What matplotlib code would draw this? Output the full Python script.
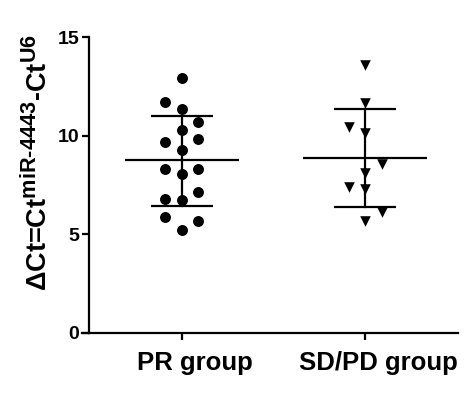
import matplotlib
matplotlib.use("Agg")
import matplotlib.pyplot as plt
import matplotlib.transforms as mtrans
import matplotlib._mathtext as _mt
import numpy as np

_mt.SHRINK_FACTOR = 0.8

plt.rcParams['font.family'] = ['Liberation Sans', 'DejaVu Sans']
plt.rcParams['font.weight'] = 'bold'
plt.rcParams['mathtext.fontset'] = 'custom'
plt.rcParams['mathtext.rm'] = 'Liberation Sans:bold'
plt.rcParams['mathtext.bf'] = 'Liberation Sans:bold'
plt.rcParams['mathtext.it'] = 'Liberation Sans:bold'

groups = ["PR group", "SD/PD group"]
pr_values = [12.9, 11.7, 11.37, 10.69, 10.27, 9.68, 9.85, 9.29, 8.32, 8.32,
             8.07, 7.13, 6.8, 6.71, 5.86, 5.69, 5.19]
pr_offsets = [0, -1, 0, 1, 0, -1, 1, 0, -1, 1, 0, 1, -1, 0, -1, 1, 0]
sd_values = [13.57, 11.66, 10.44, 10.13, 8.58, 8.1, 7.39, 7.3, 6.12, 5.66]
sd_offsets = [0, 0, -1, 0, 1, 0, -1, 0, 1, 0]
pr_mean, pr_sd_lo, pr_sd_hi = 8.74, 6.42, 10.98
sd_mean, sd_sd_lo, sd_sd_hi = 8.86, 6.37, 11.34

fig = plt.figure(figsize=(4.74, 3.95), dpi=100)
ax = fig.add_axes([0.1878, 0.1577, 0.9662 - 0.1878, 0.9063 - 0.1577])

jit = 0.09
ax.scatter(1 + np.array(pr_offsets) * jit, pr_values, s=62, marker='o',
           color='black', zorder=3, linewidths=0)
ax.scatter(2 + np.array(sd_offsets) * jit, sd_values, s=58, marker='v',
           color='black', zorder=3, linewidths=0)

for x, m, lo, hi, mw, cw in [(1, pr_mean, pr_sd_lo, pr_sd_hi, 0.31, 0.17),
                             (2, sd_mean, sd_sd_lo, sd_sd_hi, 0.34, 0.17)]:
    ax.plot([x - mw, x + mw], [m, m], color='black', lw=1.6, zorder=4, solid_capstyle='butt')
    ax.plot([x, x], [lo, hi], color='black', lw=1.6, zorder=4)
    ax.plot([x - cw, x + cw], [lo, lo], color='black', lw=1.6, zorder=4, solid_capstyle='butt')
    ax.plot([x - cw, x + cw], [hi, hi], color='black', lw=1.6, zorder=4, solid_capstyle='butt')

ax.set_xlim(0.494, 2.507)
ax.set_ylim(0, 15)
ax.set_yticks([0, 5, 10, 15])
ax.set_xticks([1, 2])
ax.set_xticklabels([])
offset = mtrans.ScaledTranslation(0.13, -0.30, fig.dpi_scale_trans)
for i, g in enumerate(groups):
    ax.text(i + 1, 0, g, transform=ax.get_xaxis_transform() + offset,
            ha='center', va='center', fontsize=18.5, fontweight='bold')
ax.tick_params(axis='y', labelsize=14, width=1.6, length=5, pad=2)
ax.tick_params(axis='x', width=1.6, length=5)
for s in ['top', 'right']:
    ax.spines[s].set_visible(False)
for s in ['left', 'bottom']:
    ax.spines[s].set_linewidth(1.6)
ax.plot([-0.02, 0], [0, 0], transform=ax.transAxes, color='black', lw=1.6, clip_on=False)

ax.set_ylabel(r'$\Delta$Ct=Ct$^{\mathrm{miR}\text{-}\mathrm{4443}}$-Ct$^{\mathrm{U6}}$',
              fontsize=19.5, fontweight='bold', labelpad=3)
ax.yaxis.label.set_y(0.575)

fig.savefig("out.png", dpi=100)
